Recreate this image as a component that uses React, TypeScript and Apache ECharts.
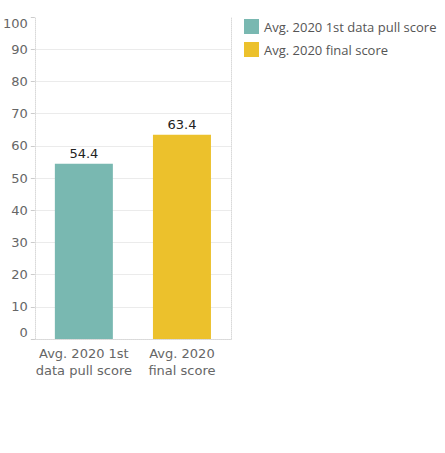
import * as echarts from "echarts";
import { useEffect, useRef } from "react";

const categories = ["Avg. 2020 1st data pull score", "Avg. 2020 final score"];
const tickLabels = ["Avg. 2020 1st\ndata pull score", "Avg. 2020\nfinal score"];
const firstPull = [54.4, "-"];
const finalScore = ["-", 63.4];
const colors = ["#79b8b1", "#ecc12c"];

export default function App() {
  const chartRef = useRef<HTMLDivElement>(null);

  useEffect(() => {
    if (!chartRef.current) return;
    const chart = echarts.init(chartRef.current, null, { renderer: "svg" });

    const font = "DejaVu Sans";
    const dotted = { color: "#d9d9d9", type: "dotted" as const, width: 1 };
    const label = {
      show: true,
      position: "top" as const,
      distance: 4,
      color: "#222",
      fontSize: 13,
      fontFamily: font,
      formatter: (p: any) => Number(p.value).toFixed(1),
    };

    const option: echarts.EChartsOption = {
      animation: false,
      color: colors,
      textStyle: { fontFamily: font },
      grid: { left: 32, top: 17, width: 199, height: 322 },
      legend: {
        orient: "vertical",
        left: 244,
        top: 19,
        padding: 0,
        itemWidth: 15,
        itemHeight: 15,
        itemGap: 8,
        icon: "rect",
        textStyle: { color: "#555", fontSize: 13, fontFamily: "Open Sans" },
        data: categories,
      },
      xAxis: [
        {
          type: "category",
          data: categories,
          axisLine: { lineStyle: dotted },
          axisTick: { show: false },
          axisLabel: {
            interval: 0,
            color: "#666",
            fontSize: 13,
            fontFamily: font,
            lineHeight: 17,
            margin: 6,
            formatter: (_v: string, i: number) => tickLabels[i],
          },
        },
        {
          type: "category",
          position: "top",
          data: categories,
          axisLine: { lineStyle: dotted },
          axisTick: { show: false },
          axisLabel: { show: false },
        },
      ],
      yAxis: [
        {
          type: "value",
          min: 0,
          max: 100,
          interval: 10,
          axisLine: { show: true, lineStyle: dotted },
          axisTick: { show: true, length: 4, lineStyle: { color: "#ccc" } },
          splitLine: {
            show: true,
            showMinLine: false,
            showMaxLine: false,
            lineStyle: { color: "#ebebeb", width: 1 },
          },
          axisLabel: {
            color: "#666",
            fontSize: 13,
            fontFamily: font,
            margin: 7,
            formatter: (v: number) =>
              v === 0 ? "{lo|0}" : v === 100 ? "{hi|100}" : String(v),
            rich: {
              lo: { color: "#666", fontSize: 13, fontFamily: font, padding: [0, 0, 14, 0] },
              hi: { color: "#666", fontSize: 13, fontFamily: font, padding: [12, 0, 0, 0] },
            },
          },
        },
        {
          type: "value",
          position: "right",
          min: 0,
          max: 100,
          interval: 10,
          axisLine: { show: true, lineStyle: dotted },
          axisTick: { show: false },
          splitLine: { show: false },
          axisLabel: { show: false },
        },
      ],
      series: [
        {
          name: categories[0],
          type: "bar",
          data: firstPull,
          barWidth: 58,
          barGap: "-100%",
          label,
        },
        {
          name: categories[1],
          type: "bar",
          data: finalScore,
          barWidth: 58,
          label,
        },
      ],
    };

    chart.setOption(option);
    return () => chart.dispose();
  }, []);

  return (
    <div
      ref={chartRef}
      style={{ position: "fixed", left: 0, top: 0, width: 445, height: 453, background: "#fff" }}
    />
  );
}
